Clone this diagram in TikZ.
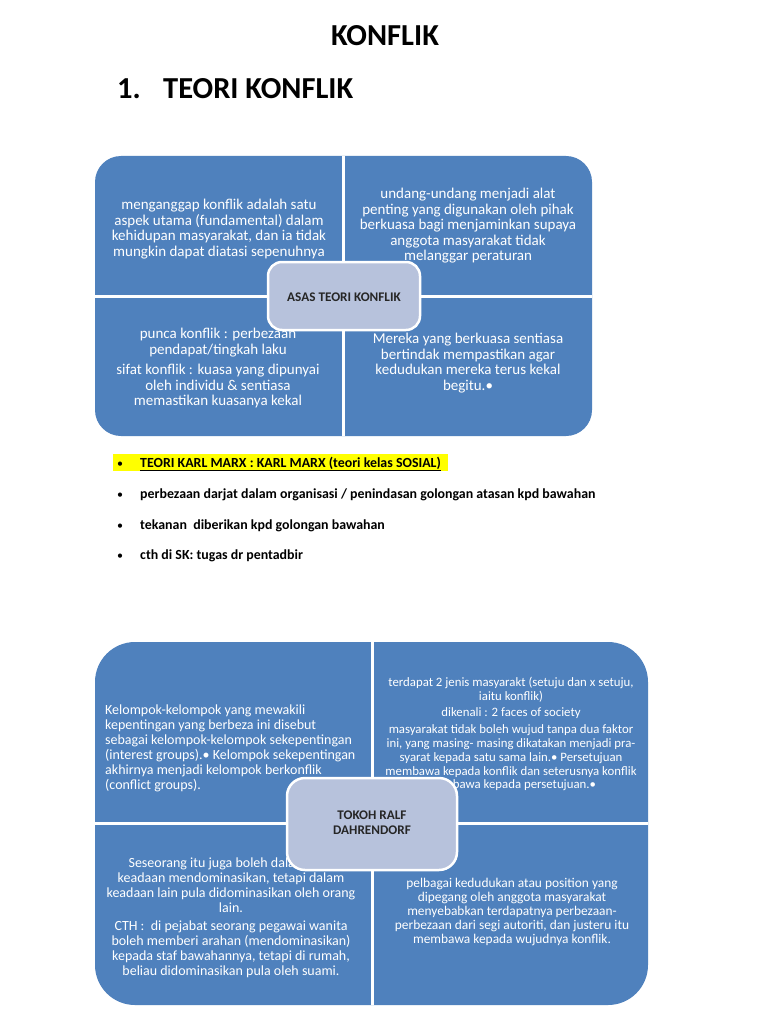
\documentclass[tikz,border=0pt]{standalone}
\usepackage{fontspec}
\setmainfont{Carlito}
\definecolor{qblue}{HTML}{4F81BD}
\definecolor{cbox}{HTML}{B7C2DC}
\definecolor{hl}{HTML}{FFFF00}
\begin{document}
\begin{tikzpicture}[x=1pt,y=-1pt,
  quad/.style={fill=qblue},
  divider/.style={draw=white,line width=3pt},
  centerbox/.style={fill=cbox,draw=white,line width=2.5pt},
  qtext/.style={text=white,align=center,inner sep=0pt,font=\fontsize{15}{15.5}\selectfont},
  ctext/.style={text=black!85,align=center,inner sep=0pt,font=\bfseries\fontsize{13.2}{15}\selectfont},
  bul/.style={anchor=base west,inner sep=0pt,font=\bfseries\fontsize{13.9}{15}\selectfont},
  buldot/.style={anchor=base west,inner sep=0pt,font=\fontsize{12}{15}\selectfont},
  title/.style={inner sep=0pt,font=\bfseries\fontsize{30.5}{32}\selectfont}]
\useasboundingbox (0,0) rectangle (768,1024);
\fill[white] (0,0) rectangle (768,1024);

% titles
\node[title,anchor=base] (t1) at (385,46) {KONFLIK};
\node[title,anchor=base west] (t2n) at (117,99) {1.};
\node[title,anchor=base west] (t2) at (163,99) {TEORI KONFLIK};

% ---------- diagram 1 ----------
\fill[quad,rounded corners=26pt] (95,156) rectangle (592,436);
\draw[divider] (343.5,156) -- (343.5,436);
\draw[divider] (95,296) -- (592,296);

\node[qtext] (a1) at (219,229) {menganggap konflik adalah satu\\aspek utama (fundamental) dalam\\kehidupan masyarakat, dan ia tidak\\mungkin dapat diatasi sepenuhnya};
\node[qtext] (a2) at (468,226) {undang-undang menjadi alat\\penting yang digunakan oleh pihak\\berkuasa bagi menjaminkan supaya\\anggota masyarakat tidak\\melanggar peraturan};
\node[qtext] (a3) at (218,368) {punca konflik : perbezaan\\pendapat/tingkah laku\\[5pt]sifat konflik : kuasa yang dipunyai\\oleh individu \& sentiasa\\memastikan kuasanya kekal};
\node[qtext] (a4) at (468,363) {Mereka yang berkuasa sentiasa\\bertindak mempastikan agar\\kedudukan mereka terus kekal\\begitu.•};

\draw[centerbox,rounded corners=14pt] (268,262) rectangle (420,330);
\node[ctext] (ac) at (344,297) {ASAS TEORI KONFLIK};

% ---------- bullets ----------
\fill[hl] (113,454) rectangle (448,471);
\node[buldot] (b1d) at (117,467) {•};
\node[bul] (b1) at (140,467) {\underline{TEORI KARL MARX : KARL MARX (teori kelas SOSIAL)}};
\node[buldot] (b2d) at (117,498) {•};
\node[bul] (b2) at (140,498) {perbezaan darjat dalam organisasi / penindasan golongan atasan kpd bawahan};
\node[buldot] (b3d) at (117,529) {•};
\node[bul] (b3) at (140,529) {tekanan\ \ diberikan kpd golongan bawahan};
\node[buldot] (b4d) at (117,559) {•};
\node[bul] (b4) at (140,559) {cth di SK: tugas dr pentadbir};

% ---------- diagram 2 ----------
\fill[quad,rounded corners=40pt] (95,642) rectangle (648,1005);
\draw[divider] (372,642) -- (372,1005);
\draw[divider] (95,823) -- (648,823);

\node[qtext,align=left,anchor=west,font=\fontsize{14}{15}\selectfont] (d1) at (105,748) {Kelompok-kelompok yang mewakili\\kepentingan yang berbeza ini disebut\\sebagai kelompok-kelompok sekepentingan\\(interest groups).• Kelompok sekepentingan\\akhirnya menjadi kelompok berkonflik\\(conflict groups).};
\node[qtext,font=\fontsize{12.8}{13.8}\selectfont] (d2) at (511,734) {terdapat 2 jenis masyarakt (setuju dan x setuju,\\iaitu konflik)\\[3pt]dikenali : 2 faces of society\\[3pt]masyarakat tidak boleh wujud tanpa dua faktor\\ini, yang masing- masing dikatakan menjadi pra-\\syarat kepada satu sama lain.• Persetujuan\\membawa kepada konflik dan seterusnya konflik\\membawa kepada persetujuan.•};
\node[qtext,font=\fontsize{14}{15}\selectfont] (d3) at (231,918) {Seseorang itu juga boleh dalam satu\\keadaan mendominasikan, tetapi dalam\\keadaan lain pula didominasikan oleh orang\\lain.\\[3pt]CTH :\ \ di pejabat seorang pegawai wanita\\boleh memberi arahan (mendominasikan)\\kepada staf bawahannya, tetapi di rumah,\\beliau didominasikan pula oleh suami.};
\node[qtext,font=\fontsize{13.4}{14.2}\selectfont] (d4) at (512,912) {pelbagai kedudukan atau position yang\\dipegang oleh anggota masyarakat\\menyebabkan terdapatnya perbezaan-\\perbezaan dari segi autoriti, dan justeru itu\\membawa kepada wujudnya konflik.};

\draw[centerbox,rounded corners=18pt] (287,778) rectangle (457,870);
\node[ctext] (dc) at (372,823) {TOKOH RALF\\DAHRENDORF};
\end{tikzpicture}
\end{document}
